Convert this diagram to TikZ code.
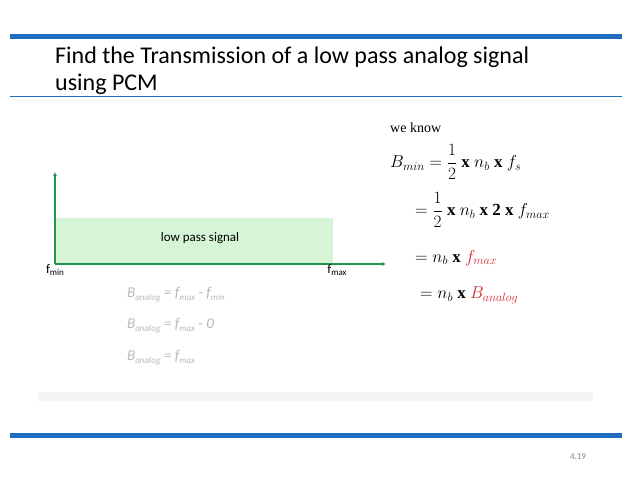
\documentclass[tikz,border=0pt]{standalone}
\usepackage{amsmath}
\usepackage{fontspec}
\setmainfont{Carlito}
\newfontfamily\mfont{Liberation Serif}
\usetikzlibrary{arrows.meta}
\definecolor{barblue}{RGB}{31,110,196}
\definecolor{sgreen}{RGB}{30,150,80}
\definecolor{lgreen}{RGB}{214,245,214}
\definecolor{fgray}{RGB}{185,185,185}
\definecolor{mred}{RGB}{210,40,50}
\tikzset{
 bar/.style={fill=barblue,draw=none},
 gtxt/.style={anchor=west,text=fgray,font=\fontsize{15}{16}\selectfont\itshape,inner sep=0},
 mtxt/.style={anchor=west,font=\mfont\fontsize{17}{18}\selectfont\bfseries,inner sep=0},
 ax/.style={sgreen,line width=1.5pt,-{Latex[length=4pt,width=4pt]}}
}
\begin{document}
\begin{tikzpicture}[x=1pt,y=-1pt]
\useasboundingbox (0,0) rectangle (638,478);
\fill[bar] (10,34) rectangle (622,39);
\draw[barblue,line width=0.8pt] (10,96) -- (622,96);
\fill[bar] (10,433) rectangle (622,438);
\node[anchor=west,inner sep=0,font=\fontsize{24}{27}\selectfont,align=left] (title) at (55,71) {Find the Transmission of a low pass analog signal\\using PCM};
\node[anchor=center,font=\fontsize{9}{10}\selectfont,text=gray] (pg) at (578,457) {4.19};
\fill[black!4] (38,392) rectangle (593,401);
\fill[lgreen] (56,218) rectangle (333,263);
\coordinate (o) at (55,264);
\coordinate (top) at (55,172);
\coordinate (right) at (386,264);
\draw[ax] (o) -- (top);
\draw[ax] (o) -- (right);
\node[inner sep=0,font=\fontsize{13}{14}\selectfont] (lp) at (200,238) {low pass signal};
\node[inner sep=0,font=\fontsize{13}{14}\selectfont] (fmin) at (55,270) {f\raisebox{-2pt}{\small min}};
\node[inner sep=0,font=\fontsize{13}{14}\selectfont] (fmax) at (337,270) {f\raisebox{-2pt}{\small max}};
\node[gtxt] (b1) at (127,295) {B\raisebox{-3pt}{\small analog} = f\raisebox{-3pt}{\small max} - f\raisebox{-3pt}{\small min}};
\node[gtxt] (b2) at (127,326) {B\raisebox{-3pt}{\small analog} = f\raisebox{-3pt}{\small max} - 0};
\node[gtxt] (b3) at (127,358) {B\raisebox{-3pt}{\small analog} = f\raisebox{-3pt}{\small max}};
\node[anchor=west,inner sep=0,font=\mfont\fontsize{14}{15}\selectfont] (wk) at (390,128) {we know};
\node[mtxt] (e1) at (390,162) {$B_{min} = \dfrac{1}{2}$ x $n_b$ x $f_s$};
\node[mtxt] (e2) at (415,210) {$= \dfrac{1}{2}$ x $n_b$ x 2 x $f_{max}$};
\node[mtxt] (e3) at (415,258) {$= n_b$ x \textcolor{mred}{$f_{max}$}};
\node[mtxt] (e4) at (420,295) {$= n_b$ x \textcolor{mred}{$B_{analog}$}};
\end{tikzpicture}
\end{document}
